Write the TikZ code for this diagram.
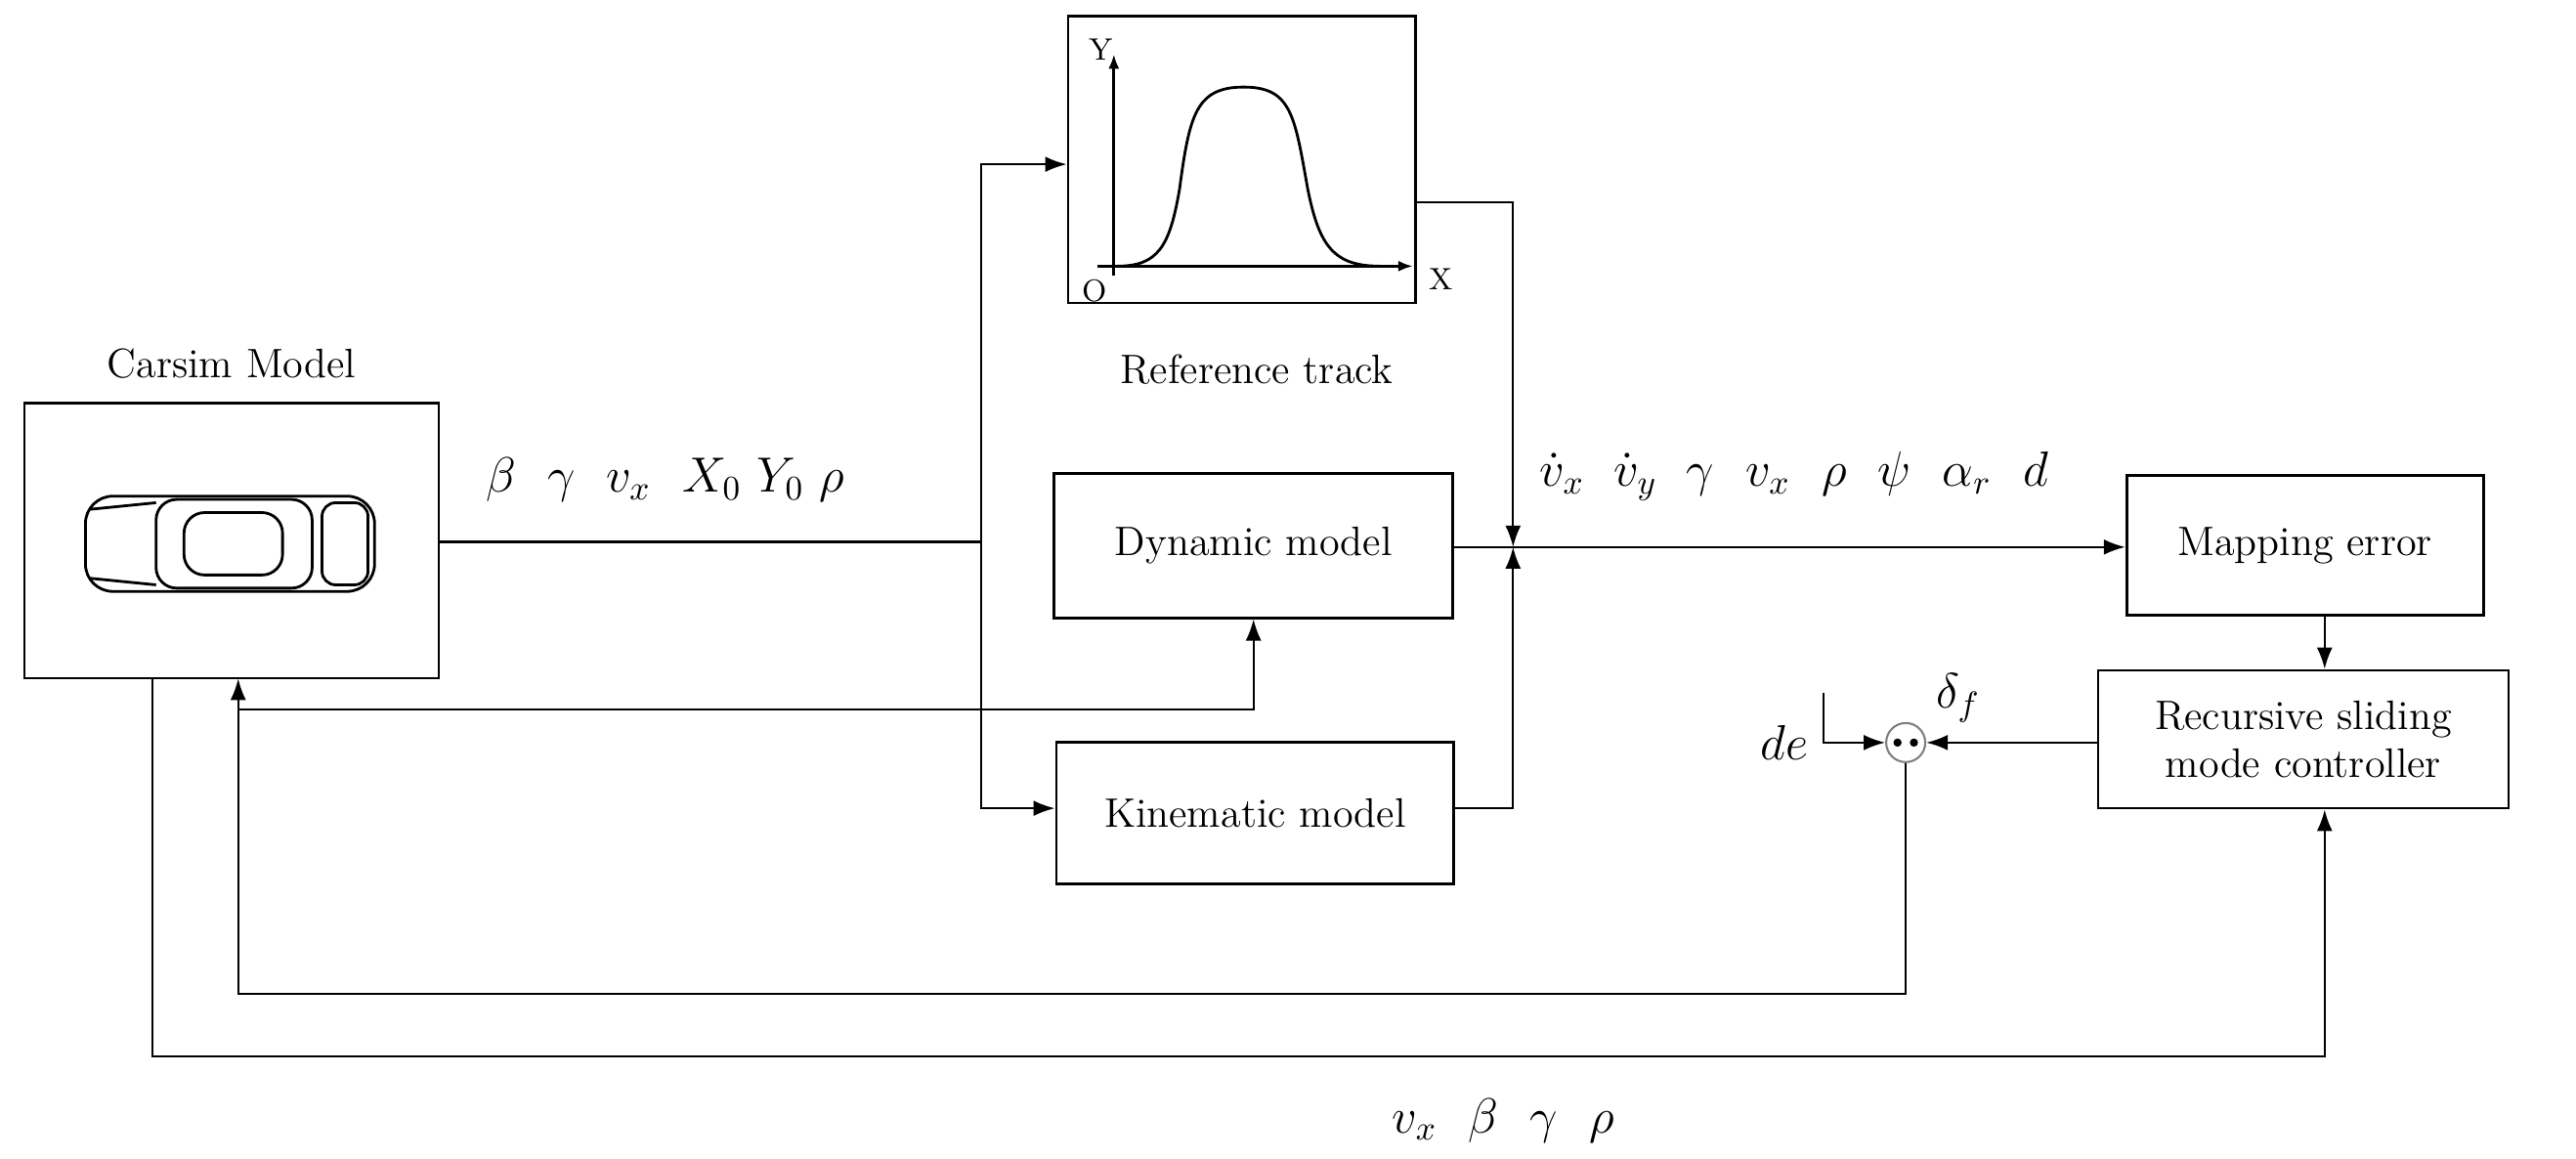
\documentclass[tikz,border=0pt]{standalone}
\usepackage{amsmath,amssymb}
\usetikzlibrary{arrows.meta}
\begin{document}
\begin{tikzpicture}[x=0.01681cm, y=-0.01681cm,
    semithick,
    blk/.style={draw, thick, rectangle, inner sep=2pt, align=center, font=\fontsize{12}{14}\selectfont},
    arr/.style={-{Latex[length=2.2mm,width=1.6mm]}},
    lbl/.style={font=\fontsize{14}{16}\selectfont}
]
\useasboundingbox (0,0) rectangle (1568,705);

% blocks
\node[blk, minimum width=4.24cm, minimum height=2.82cm] (car) at (141,329) {};
\node[font=\fontsize{12}{14}\selectfont, anchor=south] (cartitle) at (141,238) {Carsim Model};
\node[blk, minimum width=3.56cm, minimum height=2.94cm] (ref) at (756,97) {};
\node[font=\fontsize{12}{14}\selectfont] (reftitle) at (765,225) {Reference track};
\node[blk, minimum width=4.08cm, minimum height=1.48cm] (dyn) at (763,332) {Dynamic model};
\node[blk, minimum width=4.07cm, minimum height=1.45cm] (kin) at (764,495) {Kinematic model};
\node[blk, minimum width=3.65cm, minimum height=1.43cm] (map) at (1403,332) {Mapping error};
\node[blk, minimum width=4.2cm, minimum height=1.41cm] (rsmc) at (1402,450) {Recursive sliding\\mode controller};
\node[draw=gray, circle, minimum size=0.4cm, inner sep=0pt] (sum) at (1160,452) {};
\fill (sum.center)++(-5,0) circle (1.2pt) (sum.center)++(5,0) circle (1.2pt);

% car icon
\begin{scope}[thick]
\draw[rounded corners=8] (52,302) rectangle (228,360);
\draw[rounded corners=6] (95,304) rectangle (190,358);
\draw[rounded corners=6] (112,312) rectangle (172,350);
\draw[rounded corners=4] (196,306) rectangle (224,356);
\draw (55,310) -- (95,306) (55,352) -- (95,356);
\end{scope}

% reference track plot
\draw[thick, -{Latex[length=1.5mm]}] (678,168) -- (678,33);
\draw[thick, -{Latex[length=1.5mm]}] (668,162) -- (860,162);
\draw[thick] (680,162) .. controls (705,162) and (712,150) .. (718,115)
  .. controls (724,70) and (728,53) .. (757,53)
  .. controls (786,53) and (788,70) .. (796,115)
  .. controls (803,150) and (812,162) .. (840,162);
\node[font=\small] (ylab) at (670,30) {Y};
\node[font=\small] (olab) at (666,177) {O};
\node[font=\small] (xlab) at (877,170) {X};

% coordinates
\coordinate (bus) at (597,330);
\coordinate (bustop) at (597,100);
\coordinate (busbot) at (597,492);
\coordinate (jn) at (921,333);
\coordinate (detop) at (1110,422);

% signal flow
\draw[thick] (car.east |- bus) -- (bus);
\draw[arr] (bus) -- (bustop) -- (bustop -| ref.west);
\draw[arr] (bus) -- (busbot) -- (busbot -| kin.west);
\draw[arr] (ref.east |- 0,123) -| (jn);
\draw[arr] (kin.east |- 0,492) -| (jn);
\draw[arr] (dyn.east |- jn) -- (jn) -- (map.west |- jn);
\draw[arr] (map.south -| 1415,0) -- (rsmc.north -| 1415,0);
\draw[arr] (rsmc.west |- sum) -- (sum.east);
\draw[arr] (detop) |- (sum.west);
\draw[arr] (sum.south) |- (145,605) -- (145,413);
\draw[arr] (145,432) -| (dyn.south);
\draw[arr] (93,413) |- (1415,643) -- (rsmc.south -| 1415,0);

% labels
\node[lbl] (l1) at (405,292) {$\beta\ \ \gamma\ \ v_x\ \ X_0\ Y_0\ \rho$};
\node[lbl] (l2) at (1092,290) {$\dot v_x\;\ \dot v_y\;\ \gamma\ \ v_x\ \ \rho\ \ \psi\ \ \alpha_r\ \ d$};
\node[lbl] (l3) at (1192,425) {$\delta_f$};
\node[lbl] (l4) at (1086,452) {$de$};
\node[lbl] (l5) at (915,682) {$v_x\ \ \beta\ \ \gamma\ \ \rho$};
\end{tikzpicture}
\end{document}
